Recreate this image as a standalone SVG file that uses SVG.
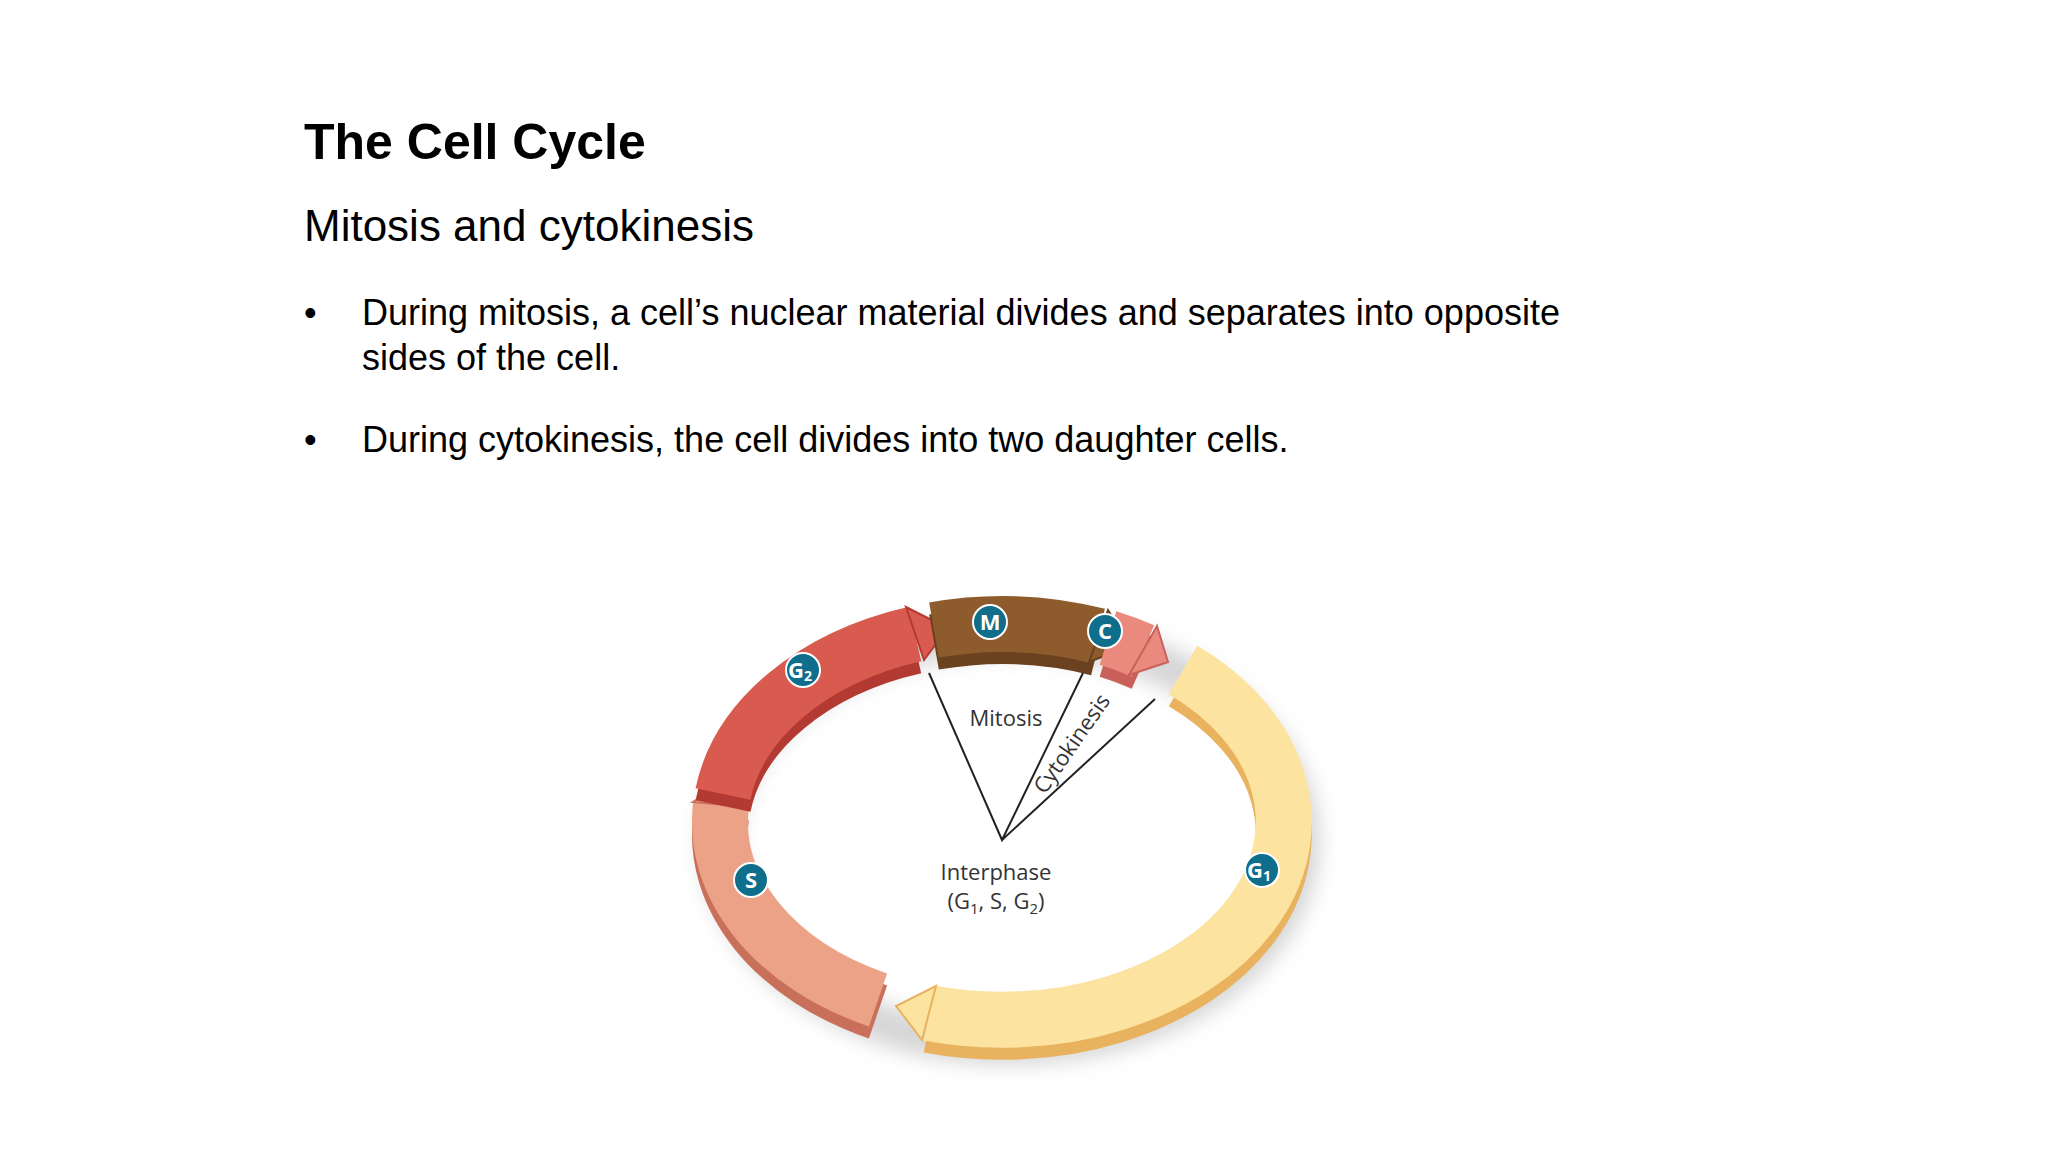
<svg xmlns="http://www.w3.org/2000/svg" width="2048" height="1152" viewBox="0 0 2048 1152">
<defs>
<style>
.t{font-family:"Liberation Sans",Arial,sans-serif;fill:#000}
.seg{fill:none;stroke-width:56}
.lbl{font-family:"Open Sans","Liberation Sans",sans-serif;font-weight:bold;fill:#fff;font-size:22px;text-anchor:middle}
.dg{font-family:"Open Sans","Liberation Sans",sans-serif;fill:#333;font-size:22px;text-anchor:middle}
.ln{stroke:#222;stroke-width:2;fill:none}
</style>
<filter id="sh" x="-20%" y="-20%" width="140%" height="140%"><feGaussianBlur stdDeviation="10"/></filter>
</defs>
<rect width="2048" height="1152" fill="#fff"/>
<text class="t" x="304" y="159" font-size="50" font-weight="bold">The Cell Cycle</text>
<text class="t" x="304" y="241" font-size="44">Mitosis and cytokinesis</text>
<text class="t" x="304" y="325" font-size="36">•</text>
<text class="t" x="362" y="325" font-size="36">During mitosis, a cell’s nuclear material divides and separates into opposite</text>
<text class="t" x="362" y="370" font-size="36">sides of the cell.</text>
<text class="t" x="304" y="452" font-size="36">•</text>
<text class="t" x="362" y="452" font-size="36">During cytokinesis, the cell divides into two daughter cells.</text>
<g id="shadow"><ellipse cx="1010" cy="840" rx="290" ry="205" fill="none" stroke="#bbb" stroke-width="40" filter="url(#sh)" opacity="0.6"/></g>
<g id="G1">
<path class="seg" transform="translate(0,12)" stroke="#e8b25e" d="M1183,670 A282,198 0 0 1 929,1013"/>
<path class="seg" stroke="#fde3a0" d="M1183,670 A282,198 0 0 1 929,1013"/>
<polygon points="922,1040 936,986 896,1006" fill="#fde3a0" stroke="#e8b25e" stroke-width="2"/>
</g>
<g id="S">
<path class="seg" transform="translate(0,12)" stroke="#c9705a" d="M878,1000 A282,198 0 0 1 721,805"/>
<path class="seg" stroke="#eba287" d="M878,1000 A282,198 0 0 1 721,805"/>
<polygon points="693,802 749,807 726,781" fill="#eba287" stroke="#c9705a" stroke-width="2"/>
</g>
<g id="G2">
<path class="seg" transform="translate(0,12)" stroke="#b33a33" d="M723,794 A282,198 0 0 1 915,634"/>
<path class="seg" stroke="#d95a4e" d="M723,794 A282,198 0 0 1 915,634"/>
<polygon points="906,607 924,660 948,628" fill="#d95a4e" stroke="#b33a33" stroke-width="2"/>
</g>
<g id="M">
<path class="seg" transform="translate(0,12)" stroke="#6b4220" d="M934,630 A282,198 0 0 1 1098,636"/>
<path class="seg" stroke="#8d5b2c" d="M934,630 A282,198 0 0 1 1098,636"/>
<polygon points="1108,610 1089,662 1130,646" fill="#8d5b2c" stroke="#6b4220" stroke-width="2"/>
</g>
<g id="C">
<path class="seg" transform="translate(0,12)" stroke="#c9605a" d="M1108,638 A282,198 0 0 1 1143,651"/>
<path class="seg" stroke="#ea8a7e" d="M1108,638 A282,198 0 0 1 1143,651"/>
<polygon points="1157,626 1129,675 1168,662" fill="#ea8a7e" stroke="#c9605a" stroke-width="2"/>
</g>
<g id="connectors">
<polyline class="ln" points="929,673 1002,840 1083,673"/>
<line class="ln" x1="1002" y1="840" x2="1155" y2="699"/>
</g>
<g id="labels">
<text class="dg" x="1006" y="726">Mitosis</text>
<text class="dg" transform="translate(1078,748) rotate(-55)">Cytokinesis</text>
<text class="dg" x="996" y="880">Interphase</text>
<text class="dg" x="996" y="909">(G<tspan font-size="15" dy="5">1</tspan><tspan dy="-5">, S, G</tspan><tspan font-size="15" dy="5">2</tspan><tspan dy="-5">)</tspan></text>
</g>
<g id="badges">
<g id="bM"><circle cx="990" cy="622" r="17" fill="#0e6e8c" stroke="#fff" stroke-width="2"/><text class="lbl" x="990" y="630">M</text></g>
<g id="bC"><circle cx="1105" cy="631" r="17" fill="#0e6e8c" stroke="#fff" stroke-width="2"/><text class="lbl" x="1105" y="639">C</text></g>
<g id="bG2"><circle cx="803" cy="670" r="17" fill="#0e6e8c" stroke="#fff" stroke-width="2"/><text class="lbl" x="800" y="678">G<tspan font-size="14" dy="3">2</tspan></text></g>
<g id="bS"><circle cx="751" cy="880" r="17" fill="#0e6e8c" stroke="#fff" stroke-width="2"/><text class="lbl" x="751" y="888">S</text></g>
<g id="bG1"><circle cx="1262" cy="870" r="17" fill="#0e6e8c" stroke="#fff" stroke-width="2"/><text class="lbl" x="1259" y="878">G<tspan font-size="14" dy="3">1</tspan></text></g>
</g>
</svg>
